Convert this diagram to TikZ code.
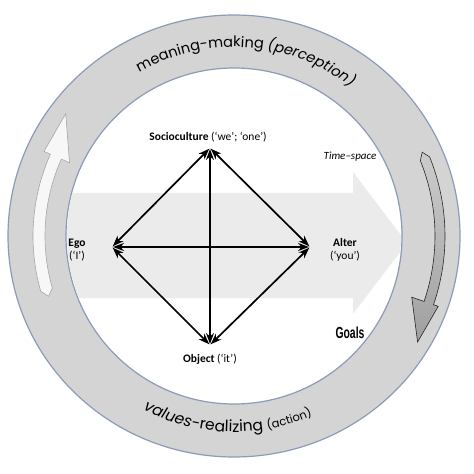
\documentclass[tikz,border=0pt]{standalone}
\usepackage{fontspec}
\setmainfont{Carlito}
\newfontfamily\ringfont{Poppins}
\newfontfamily\goalfont{Liberation Sans}
\usetikzlibrary{arrows.meta,decorations.text}

\definecolor{ringgray}{HTML}{D4D4D4}
\definecolor{ringline}{HTML}{8C9BB8}
\definecolor{bandgray}{HTML}{EBEBEB}

\tikzset{
  rel/.style={{Stealth[length=11pt,width=8pt]}-{Stealth[length=11pt,width=8pt]}, line width=1.7pt, shorten <=1pt, shorten >=1pt},
  pole/.style={font=\fontsize{11.5}{12.5}\selectfont, align=center, inner sep=1pt},
}

\begin{document}
\begin{tikzpicture}[x=1pt,y=1pt]
    \useasboundingbox (-234,-238) rectangle (240,236);
    \fill[ringgray, draw=ringline, line width=1.2pt, even odd rule]
      (0,0) ellipse [x radius=226, y radius=221] (0,0) circle [radius=168];

    \begin{scope}
      \clip (0,0) circle [radius=167];
      \fill[bandgray] (-180,43) -- (119,43) -- (119,64) -- (173,-7) -- (119,-78) -- (119,-62) -- (-180,-62) -- cycle;
    \end{scope}

    % turning arrows in the ring
    \draw[gray!70, fill=gray!6, line width=0.6pt] (198:195) -- (196:189) arc[start angle=196, end angle=156, radius=189]
      -- (156:180) -- (144:208) -- (156:208) -- (156:201) arc[start angle=156, end angle=196, radius=201] -- cycle;
    \draw[gray!30!black, line width=0.6pt, top color=gray!40, bottom color=gray!75] (24:206) -- (22:201) arc[start angle=22, end angle=-19, radius=201]
      -- (-19:188) -- (-30:212) -- (-19:216) -- (-19:211) arc[start angle=-19, end angle=22, radius=211] -- cycle;

    \path[decorate, decoration={text along path, text align=center,
      text={|\ringfont\fontsize{14.5}{14.5}\selectfont|meaning-making |\ringfont\itshape\fontsize{14.5}{14.5}\selectfont|(perception)}}]
      (123:189) arc[start angle=123, end angle=49, radius=189];
    \path[decorate, decoration={text along path, text align=center,
      text={|\ringfont\itshape\fontsize{15.5}{15.5}\selectfont|values-|\ringfont\fontsize{15.5}{15.5}\selectfont|realizing |\ringfont\fontsize{11.5}{11.5}\selectfont|(action)}}]
      (237:196) arc[start angle=237, end angle=299, radius=196];

    \coordinate (socio) at (-24,88);
    \coordinate (ego) at (-122,-11);
    \coordinate (alter) at (76,-11);
    \coordinate (object) at (-24,-109);

    \node[pole] (sociolabel) at (-26,99) {\textbf{Socioculture} (‘we’; ‘one’)};
    \node[pole] (egolabel) at (-157,-14) {\textbf{Ego}\\(‘I’)};
    \node[pole] (alterlabel) at (111,-14) {\textbf{Alter}\\(‘you’)};
    \node[pole] (objectlabel) at (-24,-123) {\textbf{Object} (‘it’)};
    \node[font=\itshape\fontsize{11}{12}\selectfont] (timespace) at (116,79) {Time--space};
    \node[font=\goalfont\bfseries\fontsize{16}{16}\selectfont, xscale=0.65] (goals) at (116,-97) {Goals};

    \draw[rel] (socio) -- (ego);
    \draw[rel] (socio) -- (alter);
    \draw[rel] (ego) -- (object);
    \draw[rel] (alter) -- (object);
    \draw[rel] (ego) -- (alter);
    \draw[rel] (socio) -- (object);
\end{tikzpicture}
\end{document}
